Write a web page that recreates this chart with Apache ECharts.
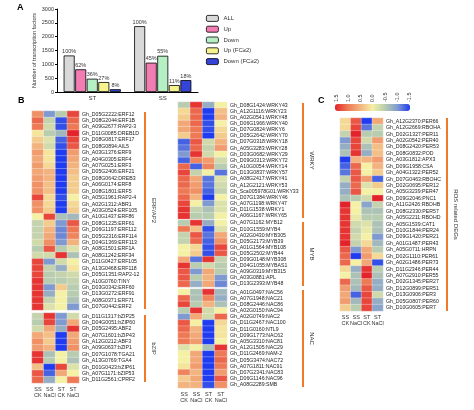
<!DOCTYPE html>
<html><head><meta charset="utf-8">
<script src="https://cdn.jsdelivr.net/npm/echarts@6/dist/echarts.min.js"></script>
<style>html,body{margin:0;padding:0;background:#fff}#c{width:474px;height:410px}</style>
</head><body><div id="c"></div>
<script>
// ---- Panel A data ----
const barCats = ['ST','SS'];
const barSeriesNames = ['ALL','Up','Down','Up (FC≥2)','Down (FC≥2)'];
const barAll = [1320, 2380];
const barUp = [820, 1060];
const barDown = [480, 1310];
const barUpFC = [360, 250];
const barDownFC = [100, 430];
const barPct = [['100%','100%'],['62%','45%'],['36%','55%'],['27%','11%'],['8%','18%']];
const yTicks = [0,500,1000,1500,2000,2500,3000];
const colLabels = ['SS\nCK','SS\nNaCl','ST\nCK','ST\nNaCl'];

// ---- Heatmap data (z-scores, SS CK, SS NaCl, ST CK, ST NaCl) ----
const erfNames = ['Gh_D05G2222:ERF12','Gh_D08G2044:ERF1B','Gh_A09G2677:RAP2-3','Gh_D11G0085:DREB1D','Gh_D08G0817:ERF17','Gh_D08G0894:AIL5','Gh_A03G1376:ERF9','Gh_A04G0305:ERF4','Gh_A07G0251:ERF3','Gh_D05G2406:ERF21','Gh_D08G0642:DREB3','Gh_A06G0174:ERF8','Gh_D08G1801:ERF5','Gh_A05G1961:RAP2-4','Gh_A02G1312:ABR1','Gh_A03G0524:ERF105','Gh_A10G1437:ERF86','Gh_D08G1225:ERF61','Gh_D06G1197:ERF112','Gh_D05G2316:ERF114','Gh_D04G1369:ERF113','Gh_A08G1501:ERF1A','Gh_A08G1242:ERF34','Gh_D11G0427:ERF105','Gh_A13G0468:ERF118','Gh_D05G1351:RAP2-12','Gh_A10G0760:TINY','Gh_D03G0342:ERF60','Gh_D13G0272:ERF91','Gh_A08G0371:ERF71','Gh_D07G0442:ERF2'];
const erfVals = [[0.8,-1,-0.5,1.3],[1.1,-0.4,-1.4,1.1],[1.0,-0.3,-1.4,1.0],[0.1,-0.5,-0.7,1.5],[0.3,-0.2,-1.3,1.3],[0.5,-0.3,-1.4,1.2],[0.7,0.1,-1.5,0.7],[0.6,0.1,-1.5,0.6],[0.7,0.2,-1.5,0.5],[0.6,0.5,-1.5,0.4],[0.7,0.5,-1.5,0.3],[0.8,0.4,-1.5,0.3],[0.8,0.4,-1.5,0.3],[1.3,0.2,-1.4,0.0],[0.8,0.2,-1.5,0.2],[0.8,0.3,-1.5,0.3],[0.0,1.3,-0.6,-0.7],[-0.4,0.3,-1.0,1.2],[-0.4,0.5,-1.1,1.0],[-0.4,0.6,-1.1,0.9],[-0.3,0.8,-1.0,0.5],[-0.5,1.2,-0.5,-0.2],[-0.3,-0.3,1.4,-0.6],[1.3,-1.0,-0.3,0.0],[1.3,-0.4,-0.8,0.1],[1.3,-0.5,-0.4,-0.3],[1.4,-0.5,-0.5,-0.4],[1.4,-1.0,0.3,-0.5],[1.4,-0.8,0.0,-0.5],[1.4,-0.4,0.0,-0.6],[1.4,-0.2,0.0,-1.0]];
const bzipNames = ['Gh_D11G1317:bZIP25','Gh_D04G0051:bZIP60','Gh_D05G2495:ABF2','Gh_A07G1601:bZIP43','Gh_A12G0212:ABF3','Gh_A09G0637:bZIP1','Gh_D07G1078:TGA21','Gh_A13G0769:TGA4','Gh_D01G0423:bZIP61','Gh_A07G1171:bZIP53','Gh_D11G2561:CPRF2'];
const bzipVals = [[-0.4,1.4,-1.0,-0.3],[-0.5,1.3,-1.0,0.6],[-0.3,0.6,-0.8,1.4],[0.6,0.4,-1.5,0.6],[0.8,0.3,-1.5,0.7],[0.7,0.5,-1.5,0.8],[1.4,-0.6,0.0,-0.5],[1.4,-0.5,0.0,-0.6],[0.4,-1.5,1.3,-0.2],[1.2,-1.3,0.6,0.0],[1.1,-0.8,0.0,1.0]];
const wrkyNames = ['Gh_D08G1424:WRKY43','Gh_A12G1116:WRKY23','Gh_A02G0541:WRKY48','Gh_D06G1966:WRKY40','Gh_D07G0824:WRKY6','Gh_D05G2642:WRKY70','Gh_D07G0318:WRKY18','Gh_A05G3283:WRKY28','Gh_D03G0682:WRKY29','Gh_D09G0313:WRKY72','Gh_A10G0054:WRKY14','Gh_D13G0837:WRKY57','Gh_A08G2417:WRKY41','Gh_A12G2121:WRKY53','Gh_Sca005978G01:WRKY33','Gh_D07G1384:WRKY46','Gh_A07G1198:WRKY47','Gh_D11G1538:WRKY1','Gh_A06G1167:WRKY65'];
const wrkyVals = [[-0.5,1.4,-0.8,0.0],[0.2,1.1,-1.5,0.4],[0.3,1.1,-1.5,0.5],[0.6,1.1,-1.4,0.0],[0.6,1.0,-1.4,0.2],[0.3,1.0,-1.5,0.3],[-1.3,1.2,-0.3,0.5],[-1.2,1.1,-0.4,0.7],[-1.0,1.4,-0.3,0.0],[-1.3,0.9,0.7,-0.3],[1.1,-1.3,0.9,-0.5],[1.3,-0.4,0.0,-1.2],[1.1,0.6,-1.2,-0.2],[1.1,0.7,-1.2,-0.3],[1.0,0.8,-1.3,-0.4],[1.1,0.5,-1.5,0.0],[1.3,0.0,-1.0,-0.2],[1.4,-0.4,-0.6,-0.2],[1.4,-0.5,-0.5,0.0]];
const mybNames = ['Gh_A07G1162:MYB12','Gh_D10G1559:MYB4','Gh_A02G0430:MYB305','Gh_D05G2173:MYB39','Gh_A01G1564:MYB108','Gh_D05G2502:MYB44','Gh_D09G0148:MYB308','Gh_D04G1055:MYBAS1','Gh_A09G0319:MYB315','Gh_A03G0881:APL','Gh_D13G2393:MYB48'];
const mybVals = [[-0.5,1.4,-0.8,0.0],[1.0,0.4,-1.4,-0.2],[-0.4,1.2,-1.2,0.6],[-0.4,1.1,-1.3,0.8],[0.0,0.2,-1.4,1.3],[0.0,0.3,-1.4,1.2],[0.6,-1.2,1.4,-0.4],[1.4,-0.5,-0.3,-0.5],[1.2,-1.0,0.6,-0.5],[1.2,-0.5,0.5,-1.0],[1.1,-0.8,0.6,-1.1]];
const nacNames = ['Gh_A01G0497:NAC56','Gh_A07G1948:NAC21','Gh_D08G2446:NAC86','Gh_A02G0150:NAC94','Gh_A02G0749:NAC2','Gh_D11G2467:NAC100','Gh_D11G0160:NTL9','Gh_D09G1773:NAC62','Gh_A05G3310:NAC81','Gh_A12G1505:NAC29','Gh_D11G2469:NAM-2','Gh_D05G3474:NAC72','Gh_A07G1811:NAC91','Gh_D07G2341:NAC83','Gh_D06G1146:NAC96','Gh_A08G2289:SMB'];
const nacVals = [[0.0,-0.6,1.4,-0.7],[1.1,-0.6,0.9,-0.8],[1.3,-0.5,0.5,-0.6],[-0.5,1.4,-0.3,0.0],[-1.0,0.6,-0.3,1.1],[1.2,0.0,-1.5,0.2],[1.1,0.5,-1.5,0.1],[1.0,0.6,-1.5,0.1],[1.0,0.7,-1.5,0.0],[-0.2,0.0,-0.6,1.4],[0.0,0.6,-1.5,1.0],[0.0,0.6,-1.5,1.1],[0.1,0.7,-1.5,1.0],[0.9,0.5,-1.5,0.7],[0.3,0.6,-1.5,1.2],[0.5,0.5,-1.4,0.8]];
const rosNames = ['Gh_A12G2370:PER66','Gh_A12G2669:RBOHA','Gh_D02G1327:PER11','Gh_A02G0542:PER40','Gh_D08G2420:PER53','Gh_D08G0832:POD','Gh_A03G1812:APX3','Gh_D09G1958:CSA','Gh_A04G1322:PER52','Gh_D07G0463:RBOHC','Gh_D02G0695:PER12','Gh_A05G3239:PER47','Gh_D09G2046:PNC1','Gh_A11G2426:RBOHB','Gh_D08G2330:PER57','Gh_A05G2211:RBOHD','Gh_A05G1539:CAT1','Gh_D10G1844:PER24','Gh_D09G1420:PER21','Gh_A01G1487:PER43','Gh_A05G0711:HRPN','Gh_D02G1110:PER61','Gh_A02G1486:PER73','Gh_D11G2346:PER44','Gh_A07G2910:PER55','Gh_D02G1345:PER27','Gh_D12G0899:PER51','Gh_D13G0906:PER3','Gh_D05G0807:PER60','Gh_D10G0605:PER7'];
const rosVals = [[0.2,1.2,-1.5,0.6],[0.2,1.3,-1.2,-0.4],[-0.4,1.5,-0.5,-0.5],[-1.0,1.3,-0.3,0.7],[-0.8,1.3,-0.6,0.4],[-0.6,1.4,-0.8,0.4],[-1.5,0.5,0.5,0.7],[-1.3,1.1,0.0,0.5],[-1.2,1.2,0.0,0.3],[-0.4,1.2,0.7,-1.3],[-0.8,1.1,-0.2,0.3],[-0.8,1.2,0.0,0.0],[-0.6,-0.5,-0.3,1.5],[1.5,0.0,-0.9,-0.4],[1.4,0.0,-0.6,-0.6],[1.4,-0.1,-0.5,-0.5],[1.4,-0.3,-0.2,-0.6],[1.4,-0.4,-0.1,-0.6],[1.4,-0.3,0.0,-1.0],[1.5,-0.4,0.2,-0.7],[1.2,-1.0,0.6,-0.5],[1.1,-1.5,0.7,0.2],[1.1,0.0,0.6,-1.4],[0.2,-0.8,1.4,-0.5],[0.0,-0.6,1.5,-0.6],[1.1,-0.6,1.0,-0.8],[0.7,-0.7,1.2,-0.8],[0.6,-1.3,1.3,-0.3],[0.7,-0.7,1.3,-0.8],[0.3,-0.5,1.3,-0.9]];
const scaleTicks = ['1.5','1.0','0.5','0.0','-0.5','-1.0','-1.5'];

const chart = echarts.init(document.getElementById('c'));
const FONT = 'Liberation Sans, Arial, sans-serif';
const barColors = ['#d9d9d9','#f27db3','#b5efc3','#f6f28e','#3444d6'];
const barData = [barAll, barUp, barDown, barUpFC, barDownFC];

const grids = [{left:57, top:9, width:141, height:83}];
const xAxes = [{gridIndex:0, type:'category', data:barCats, axisTick:{show:false},
  axisLine:{lineStyle:{color:'#000'}}, axisLabel:{fontSize:6, color:'#333', margin:3, fontFamily:FONT}}];
const yAxes = [{gridIndex:0, type:'value', min:0, max:3000, interval:500,
  axisLine:{show:true, lineStyle:{color:'#000'}}, axisTick:{show:true, length:2},
  splitLine:{show:false}, axisLabel:{fontSize:5.5, color:'#333', margin:3, fontFamily:FONT, formatter:v=>String(v)},
  name:'Number of transcription factors', nameLocation:'middle', nameGap:18,
  nameTextStyle:{fontSize:5.5, color:'#333', fontFamily:FONT}}];
const series = [];
barSeriesNames.forEach((n,i)=>{
  series.push({type:'bar', name:n, xAxisIndex:0, yAxisIndex:0, data:barData[i],
    barWidth:11, barGap:'5%', barCategoryGap:'12%',
    itemStyle:{color:barColors[i], borderColor:'#000', borderWidth:0.8},
    label:{show:true, position:'top', fontSize:5.5, color:'#333', distance:1, fontFamily:FONT,
      formatter:p=>barPct[i][p.dataIndex]}});
});
const heatIdx = [];
function addHeat(names, vals, rect){
  const gi = grids.length;
  grids.push({left:rect[0], top:rect[1], width:rect[2], height:rect[3]});
  xAxes.push({gridIndex:gi, type:'category', data:colLabels, position:'bottom',
    axisLine:{show:false}, axisTick:{show:false}, splitArea:{show:false},
    axisLabel:{show:rect[4], fontSize:5.5, color:'#333', margin:3, interval:0, lineHeight:6, fontFamily:FONT}});
  yAxes.push({gridIndex:gi, type:'category', data:names, inverse:true, position:'right',
    axisLine:{show:false}, axisTick:{show:false},
    axisLabel:{fontSize:5.2, color:'#222', margin:3, interval:0, fontFamily:FONT}});
  const d=[];
  vals.forEach((r,ri)=>r.forEach((v,ci)=>d.push([ci,ri,v])));
  heatIdx.push(series.length);
  series.push({type:'heatmap', xAxisIndex:gi, yAxisIndex:gi, data:d,
    itemStyle:{borderColor:'#fff', borderWidth:0.3}, emphasis:{disabled:true}});
}
addHeat(erfNames, erfVals, [32,111,47,199,false]);
addHeat(bzipNames, bzipVals, [32,313,47,70,true]);
addHeat(wrkyNames, wrkyVals, [178,102,49,117,false]);
addHeat(mybNames, mybVals, [178,220,49,67,false]);
addHeat(nacNames, nacVals, [178,289,49,99,true]);
addHeat(rosNames, rosVals, [340,118,43,193,true]);

const graphic = [
  {type:'text', left:17, top:3, style:{text:'A', font:'bold 9px '+FONT, fill:'#000'}},
  {type:'text', left:18, top:96, style:{text:'B', font:'bold 9px '+FONT, fill:'#000'}},
  {type:'text', left:318, top:96, style:{text:'C', font:'bold 9px '+FONT, fill:'#000'}},
];
function bracket(x,y1,y2,label){
  graphic.push({type:'line', shape:{x1:x,y1:y1,x2:x,y2:y2}, style:{stroke:'#f07a28', lineWidth:2}});
  graphic.push({type:'text', x:x+9, y:(y1+y2)/2, rotation:-Math.PI/2,
    style:{text:label, font:'6px '+FONT, fill:'#333', align:'center', verticalAlign:'middle'}});
}
bracket(145,112,309,'ERF/AP2');
bracket(145,315,382,'bZIP');
bracket(303,103,218,'WRKY');
bracket(303,222,286,'MYB');
bracket(303,290,387,'NAC');
bracket(447,118,311,'ROS related DEGs');
scaleTicks.forEach((t,i)=>{
  graphic.push({type:'text', x:336+i*12.3, y:102, rotation:Math.PI/2,
    style:{text:t, font:'5.5px '+FONT, fill:'#333', align:'left', verticalAlign:'middle'}});
});

chart.setOption({
  animation:false,
  textStyle:{fontFamily:FONT},
  grid:grids, xAxis:xAxes, yAxis:yAxes, series:series, graphic:graphic,
  legend:{data:barSeriesNames, orient:'vertical', left:201, top:10, itemWidth:12, itemHeight:6,
    itemGap:4, textStyle:{fontSize:6, color:'#333'},
    itemStyle:{borderColor:'#000', borderWidth:0.8}},
  visualMap:{type:'continuous', min:-1.5, max:1.5, seriesIndex:heatIdx, orient:'horizontal',
    inverse:true, left:335, top:104, padding:0, itemWidth:7, itemHeight:75, text:null, showLabel:false,
    calculable:false, realtime:false, hoverLink:false,
    inRange:{color:['#1f3cf0','#7f9ad0','#b8ccb0','#f4f0a4','#f3b37e','#ee7a55','#e4222a']}}
});
</script></body></html>
